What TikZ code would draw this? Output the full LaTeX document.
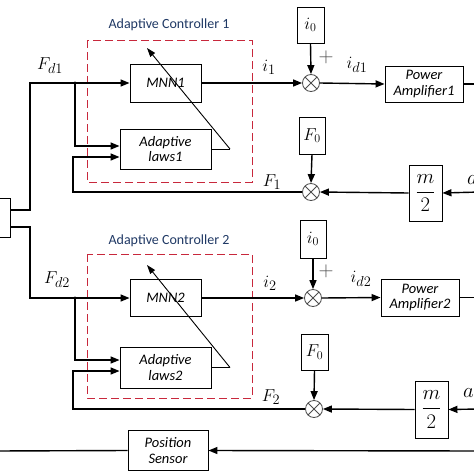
\documentclass[tikz,border=0pt]{standalone}
\usepackage{amsmath}
\usepackage{fontspec}
\newfontfamily\calib{Carlito}
\usetikzlibrary{arrows.meta}
\definecolor{dashred}{RGB}{200,40,60}
\definecolor{navy}{RGB}{31,56,100}
\begin{document}
\begin{tikzpicture}[x=1pt,y=-1pt,
  blk/.style={draw, line width=0.9pt, inner sep=0pt, align=center,
    font=\calib\itshape\fontsize{14.5}{15.5}\selectfont},
  mblk/.style={draw, line width=0.9pt, inner sep=0pt, font=\fontsize{18}{20}\selectfont},
  wire/.style={line width=1.4pt},
  arr/.style={wire, -{Triangle[length=9pt,width=7pt]}},
  thin arr/.style={line width=0.9pt, -{Triangle[length=9pt,width=6pt]}},
  sumj/.style={circle, draw=black!70, line width=0.8pt, minimum size=17pt, inner sep=0pt,
    path picture={\draw[black!70,line width=0.8pt]
      (path picture bounding box.north west) -- (path picture bounding box.south east)
      (path picture bounding box.north east) -- (path picture bounding box.south west);}},
  lab/.style={font=\fontsize{19}{21}\selectfont, inner sep=0pt},
  title/.style={text=navy, font=\calib\fontsize{14}{16}\selectfont},
  ctrl/.style={draw=dashred, dash pattern=on 8pt off 4pt, line width=1pt},
  dot/.style={circle, fill, inner sep=0pt, minimum size=3.5pt}
]
\useasboundingbox (0,0) rectangle (474,474);

% ---------- source block ----------
\node[blk, minimum width=14pt, minimum height=39pt] (src) at (3,217.5) {};

% ---------- row 1 ----------
\node[title] (t1) at (169,25) {Adaptive Controller 1};
\draw[ctrl] (87,40) rectangle (252,182);
\node[blk, minimum width=71pt, minimum height=38pt] (mnn1) at (165.5,83) {MNN1};
\node[blk, minimum width=91pt, minimum height=40pt] (law1) at (165.5,149) {Adaptive\\laws1};
\node[dot] (j1) at (75,83) {};
\node[sumj] (s1) at (311,83) {};
\node[mblk, minimum width=27pt, minimum height=36pt] (i01) at (310.5,25) {$i_0$};
\node[blk, minimum width=78pt, minimum height=36pt] (pa1) at (424,84) {Power\\Amplifier1};
\node[mblk, minimum width=26pt, minimum height=37pt] (f01) at (312,135.5) {$F_0$};
\node[sumj] (sf1) at (311,192) {};
\node[mblk, minimum width=33pt, minimum height=56pt, font=\fontsize{21}{23}\selectfont] (m1) at (425.5,193) {$\dfrac{m}{2}$};
\coordinate (r1a) at (480,84);
\coordinate (r1b) at (480,192);
\coordinate (c1) at (73,192);
\coordinate (c1b) at (73,157);
\coordinate (d1a) at (230,149);
\coordinate (d1b) at (147,48);

\node[lab] (lfd1) at (50,66) {$F_{d1}$};
\node[lab] (li1) at (269,67) {$i_1$};
\node[lab, text=black!70, font=\fontsize{22}{24}\selectfont] (lp1) at (326,57) {$+$};
\node[lab] (lid1) at (357,65) {$i_{d1}$};
\node[lab] (lf1) at (272,182) {$F_1$};
\node[lab, anchor=west, font=\fontsize{20}{22}\selectfont] (la1) at (467,180) {$a$};

\draw[arr] (src.east |- 0,210) -| (30,83) -- (mnn1.west);
\draw[arr] (j1.center) |- (law1.west |- 0,146);
\draw[arr] (sf1.west) -- (c1) -- (c1b) -- (law1.west |- c1b);
\draw[arr] (mnn1.east) -- (s1.west);
\draw[arr] (i01.south) -- (s1.north);
\draw[arr] (s1.east) -- (pa1.west);
\draw[wire] (pa1.east) -- (r1a);
\draw[arr] (f01.south) -- (sf1.north);
\draw[arr] (m1.west) -- (sf1.east);
\draw[arr] (r1b) -- (m1.east);
\draw[line width=0.9pt] (law1.east) -- (d1a);
\draw[thin arr] (d1a) -- (d1b);

% ---------- row 2 ----------
\node[title] (t2) at (169,241) {Adaptive Controller 2};
\draw[ctrl] (87,254) rectangle (252,398);
\node[blk, minimum width=71pt, minimum height=37pt] (mnn2) at (165.5,298) {MNN2};
\node[blk, minimum width=91pt, minimum height=41pt] (law2) at (165.5,367.5) {Adaptive\\laws2};
\node[dot] (j2) at (75,298) {};
\node[sumj] (s2) at (313,298) {};
\node[mblk, minimum width=26pt, minimum height=38pt] (i02) at (313,239) {$i_0$};
\node[blk, minimum width=78pt, minimum height=37pt] (pa2) at (420,297.5) {Power\\Amplifier2};
\node[mblk, minimum width=27pt, minimum height=36pt] (f02) at (314.5,352) {$F_0$};
\node[sumj] (sf2) at (314,409) {};
\node[mblk, minimum width=33pt, minimum height=57pt, font=\fontsize{21}{23}\selectfont] (m2) at (431.5,409.5) {$\dfrac{m}{2}$};
\coordinate (r2a) at (480,297.5);
\coordinate (r2b) at (480,409);
\coordinate (c2) at (73,409);
\coordinate (c2b) at (73,371);
\coordinate (d2a) at (230,367.5);
\coordinate (d2b) at (147,265);

\node[lab] (lfd2) at (57,280) {$F_{d2}$};
\node[lab] (li2) at (270,283) {$i_2$};
\node[lab, text=black!70, font=\fontsize{22}{24}\selectfont] (lp2) at (326,271) {$+$};
\node[lab] (lid2) at (361,279) {$i_{d2}$};
\node[lab] (lf2) at (271,397) {$F_2$};
\node[lab, anchor=west, font=\fontsize{20}{22}\selectfont] (la2) at (463,393) {$a$};

\draw[arr] (src.east |- 0,227) -| (30,298) -- (mnn2.west);
\draw[arr] (j2.center) |- (law2.west |- 0,360);
\draw[arr] (sf2.west) -- (c2) -- (c2b) -- (law2.west |- c2b);
\draw[arr] (mnn2.east) -- (s2.west);
\draw[arr] (i02.south) -- (s2.north);
\draw[arr] (s2.east) -- (pa2.west);
\draw[wire] (pa2.east) -- (r2a);
\draw[arr] (f02.south) -- (sf2.north);
\draw[arr] (m2.west) -- (sf2.east);
\draw[arr] (r2b) -- (m2.east);
\draw[line width=0.9pt] (law2.east) -- (d2a);
\draw[thin arr] (d2a) -- (d2b);

% ---------- position sensor ----------
\node[blk, minimum width=80pt, minimum height=40pt] (ps) at (168,450.5) {Position\\Sensor};
\coordinate (psl) at (-5,451);
\coordinate (psr) at (480,451);
\draw[wire] (ps.west) -- (psl);
\draw[arr] (psr) -- (ps.east);
\end{tikzpicture}
\end{document}
